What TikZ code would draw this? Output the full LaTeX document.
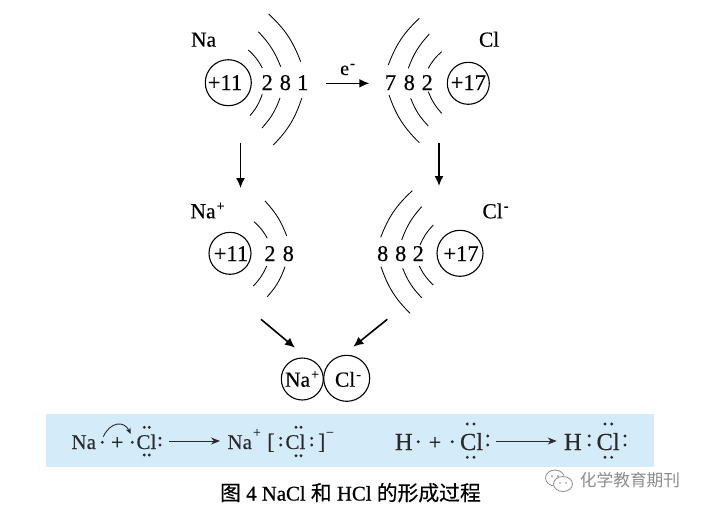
\documentclass[tikz,border=0pt]{standalone}
\usepackage{fontspec}
\setmainfont{Liberation Serif}[FakeBold=0.35]
\newfontfamily\capfont{Liberation Serif}[FakeBold=0.8]
\newfontfamily\cjk{Noto Sans CJK SC}[FakeBold=0.3]
\newfontfamily\cjkmark{Noto Sans CJK SC}
\usetikzlibrary{arrows.meta}
\definecolor{bandblue}{HTML}{D4ECFA}
\definecolor{inkgray}{HTML}{2A2A2A}
\definecolor{markgray}{HTML}{8C8C8C}
\newcommand{\supmark}[1]{\kern1pt\raisebox{0.36em}{\fontsize{14}{14}\selectfont #1}}
\newcommand{\edot}[1]{\fill[inkgray] (#1) circle (1.6);}
\tikzset{
  x=1pt,y=-1pt,
  lab/.style={inner sep=0,outer sep=0,anchor=base,font=\fontsize{22.5}{22.5}\selectfont},
  labw/.style={inner sep=0,outer sep=0,anchor=base west,font=\fontsize{21.5}{21.5}\selectfont},
  nucleus/.style={circle,draw,line width=1.1pt,fill=none,minimum size=#1,inner sep=0},
  shell/.style={line width=0.85pt},
  mainarrow/.style={line width=1.6pt,-{Latex[length=10pt,width=9pt]}},
  eq/.style={inner sep=0,outer sep=0,anchor=base west,text=inkgray,font=\fontsize{21}{21}\selectfont},
  eqbig/.style={inner sep=0,outer sep=0,anchor=base west,text=inkgray,font=\fontsize{24.5}{24.5}\selectfont},
  eqmid/.style={inner sep=0,outer sep=0,anchor=base,text=inkgray,font=\fontsize{22}{22}\selectfont},
  eqarrow/.style={line width=0.9pt,draw=inkgray,-{Stealth[length=9pt,width=7pt]}},
}
\begin{document}
\begin{tikzpicture}
\useasboundingbox (0,0) rectangle (703,512);
\fill[bandblue] (46,414) rectangle (654,467);

% atoms: nuclei
\node[nucleus=46pt] (naC) at (228.3,82.7) {};
\node[nucleus=42pt] (clC) at (468.3,83.3) {};
\node[nucleus=42pt] (naiC) at (230,253.3) {};
\node[nucleus=46pt] (cliC) at (460,253.3) {};
\node[nucleus=42pt] (pairNa) at (302.3,379) {};
\node[nucleus=46pt] (pairCl) at (346.7,378.3) {};

% labels
\node[labw] (tNa) at (191,46.7) {Na};
\node[labw] (tCl) at (479,46.7) {Cl};
\node[labw] (tNai) at (190.5,218.3) {Na\supmark{+}};
\node[labw] (tCli) at (482.5,218.3) {Cl\supmark{-}};
\node[lab] (n1) at (225,90) {+11};
\node[lab] (n2) at (267.3,90) {2};
\node[lab] (n3) at (285.3,90) {8};
\node[lab] (n4) at (302.7,90) {1};
\node[lab] (c1) at (390.5,90) {7};
\node[lab] (c2) at (409.3,90) {8};
\node[lab] (c3) at (427.3,90) {2};
\node[lab] (c4) at (468.3,90) {+17};
\node[lab] (i1) at (231,261) {+11};
\node[lab] (i2) at (270,261) {2};
\node[lab] (i3) at (288.3,261) {8};
\node[lab] (j1) at (382.7,261) {8};
\node[lab] (j2) at (400.7,261) {8};
\node[lab] (j3) at (418.3,261) {2};
\node[lab] (j4) at (461,261) {+17};
\node[labw] (pNa) at (285,386.7) {Na\supmark{+}};
\node[labw] (pCl) at (335,386.7) {Cl\supmark{-}};
\node[inner sep=0,anchor=base,font=\fontsize{20}{20}\selectfont] (eminus) at (347.5,75) {e\supmark{-}};

% shells Na
\draw[shell] (248.3,50) to[bend left=10] (262.3,68);
\draw[shell] (258.3,31.7) to[bend left=11] (280.7,66.7);
\draw[shell] (268.7,14) to[bend left=13] (300.7,61.7);
\draw[shell] (262.3,94.3) to[bend left=10] (250,115.7);
\draw[shell] (280,98) to[bend left=11] (262,128);
\draw[shell] (301.7,98.3) to[bend left=13] (273.3,145);
% shells Cl
\draw[shell] (441.7,51.7) to[bend right=10] (428.3,68.3);
\draw[shell] (429.3,34) to[bend right=11] (408.3,68.3);
\draw[shell] (419.3,18.3) to[bend right=13] (388.3,65);
\draw[shell] (428.3,91.7) to[bend right=10] (441.7,113.3);
\draw[shell] (410.7,98.3) to[bend right=11] (428.3,126);
\draw[shell] (389,95) to[bend right=13] (419.3,142.7);
% shells Na+
\draw[shell] (254,221.7) to[bend left=10] (267.3,238.3);
\draw[shell] (265,201) to[bend left=11] (286.7,236);
\draw[shell] (266.7,266) to[bend left=10] (253.3,286);
\draw[shell] (285,266.7) to[bend left=11] (267.3,296.7);
% shells Cl-
\draw[shell] (433.3,225) to[bend right=10] (420,245);
\draw[shell] (421.7,206.7) to[bend right=11] (401.7,240);
\draw[shell] (412.3,190.7) to[bend right=13] (380.7,237.3);
\draw[shell] (419.3,266) to[bend right=10] (433.3,285);
\draw[shell] (402.7,268.3) to[bend right=11] (421.7,297.7);
\draw[shell] (381,266.7) to[bend right=13] (410,313.3);

% main arrows
\coordinate (eA) at (326,83.3);
\coordinate (eB) at (369.3,83.3);
\coordinate (dA) at (240.5,143);
\coordinate (dB) at (240.5,188);
\coordinate (fA) at (439,143);
\coordinate (fB) at (439,186);
\coordinate (gA) at (261,319.3);
\coordinate (gB) at (295,347.7);
\coordinate (hA) at (387.3,319.3);
\coordinate (hB) at (353.3,346.7);
\draw[mainarrow] (eA) -- (eB);
\draw[mainarrow] (dA) -- (dB);
\draw[mainarrow] (fA) -- (fB);
\draw[mainarrow] (gA) -- (gB);
\draw[mainarrow] (hA) -- (hB);

% equation 1
\node[eq] (e1) at (71.5,449) {Na};
\edot{102.3,442.3}
\node[eqmid] (e2) at (117.3,449.5) {+};
\edot{132.3,442.3}
\node[eq] (e3) at (136.5,449) {Cl};
\edot{144.3,427.3}\edot{149.3,427.3}\edot{144.3,455}\edot{149.3,455}
\edot{160,438.3}\edot{160,445}
\coordinate (e4A) at (169.3,441);
\coordinate (e4B) at (220,441);
\draw[eqarrow] (e4A) -- (e4B);
\coordinate (cvA) at (103.3,436.7);
\coordinate (cvB) at (130.7,434);
\draw[inkgray,line width=0.9pt,-{Stealth[length=6pt,width=5pt]}] (cvA) .. controls (110,422) and (124,420) .. (cvB);
\node[eq] (e5) at (227.5,449) {Na};
\node[eq,font=\fontsize{14}{14}\selectfont] (e6) at (253,437) {+};
\node[eqmid] (e7) at (271,449) {[};
\edot{280.7,438.3}\edot{280.7,445}
\node[eq] (e8) at (285.5,449) {Cl};
\edot{296,427.3}\edot{301,427.3}\edot{296,455.7}\edot{301,455.7}
\edot{311.7,438.3}\edot{311.7,445}
\node[eqmid] (e9) at (321.7,449) {]};
\node[eq,font=\fontsize{14}{14}\selectfont] (e10) at (326,437) {−};

% equation 2
\node[eqbig] (h1) at (395,450) {H};
\edot{418.3,441.7}
\node[eqmid] (h2) at (435,449.5) {+};
\edot{452.3,441.7}
\node[eqbig] (h3) at (460,450) {Cl};
\edot{467.3,424}\edot{474,424}\edot{467.3,457.3}\edot{474,457.3}
\edot{487.7,436}\edot{487.7,445}
\coordinate (h4A) at (495.7,441);
\coordinate (h4B) at (556.7,441);
\draw[eqarrow] (h4A) -- (h4B);
\node[eqbig] (h5) at (564,450) {H};
\edot{589.3,436}\edot{589.3,445}
\node[eqbig] (h6) at (596.5,450) {Cl};
\edot{605,424}\edot{611.7,424}\edot{605,457.3}\edot{611.7,457.3}
\edot{625,436}\edot{625,445}

% caption
\node[inner sep=0,anchor=base,font=\capfont\fontsize{20.8}{20.8}\selectfont] (cap) at (350.5,500.5) {{\cjk 图} 4 NaCl {\cjk 和} HCl {\cjk 的形成过程}};

% watermark
\draw[markgray,line width=0.8pt] (555,478) ellipse (9.5 and 8);
\fill[white] (563,484) ellipse (10 and 8.5);
\draw[markgray,line width=0.8pt] (563,484) ellipse (9.5 and 7.5);
\fill[markgray] (552,476) circle (1) (558,476) circle (1) (560,483) circle (0.9) (566,483) circle (0.9);
\node[inner sep=0,anchor=base,text=markgray,font=\cjkmark\fontsize{16.7}{16.7}\selectfont] (mark) at (630,486.5) {化学教育期刊};
\end{tikzpicture}
\end{document}
